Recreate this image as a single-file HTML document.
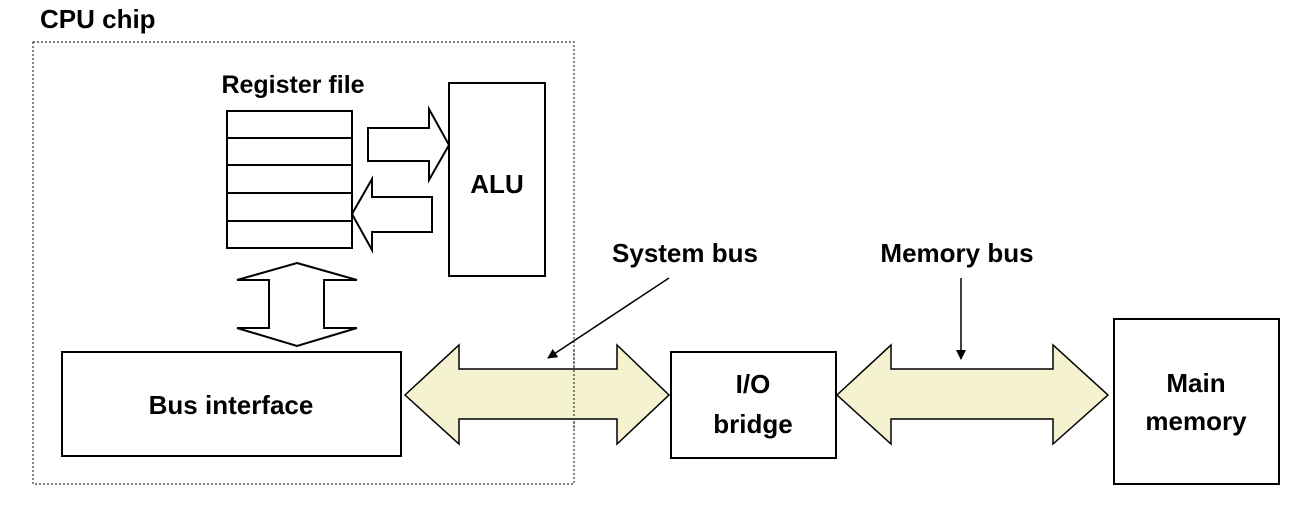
<!DOCTYPE html>
<html><head><meta charset="utf-8"><style>
html,body{margin:0;padding:0;background:#fff;}
svg text{font-family:"Liberation Sans",sans-serif;font-weight:bold;font-size:26px;fill:#000;}
</style></head><body>
<svg width="1291" height="503" viewBox="0 0 1291 503" xmlns="http://www.w3.org/2000/svg">
<defs><marker id="ah" markerWidth="10" markerHeight="10" refX="9" refY="5" orient="auto" markerUnits="userSpaceOnUse"><path d="M0,0 L10,5 L0,10 z" fill="#000"/></marker></defs>
<rect x="33" y="42" width="541" height="442" fill="none" stroke="#333" stroke-width="1.2" stroke-dasharray="2,2"/>
<text x="40" y="28" style="font-size:26px">CPU chip</text>
<text x="293" y="93" text-anchor="middle" style="font-size:25px">Register file</text>
<g fill="none" stroke="#000" stroke-width="2">
<rect x="227" y="111" width="125" height="137"/>
<line x1="227" y1="138" x2="352" y2="138"/>
<line x1="227" y1="165" x2="352" y2="165"/>
<line x1="227" y1="193" x2="352" y2="193"/>
<line x1="227" y1="221" x2="352" y2="221"/>
<rect x="449" y="83" width="96" height="193"/>
<path d="M368,128 L429,128 L429,109 L449,145 L429,180 L429,161 L368,161 Z"/>
<path d="M352,214 L372,179 L372,197 L432,197 L432,232 L372,232 L372,250 Z"/>
<path d="M297,263 L357,280 L324,280 L324,328 L357,328 L297,346 L237,328 L269,328 L269,280 L237,280 Z"/>
<rect x="62" y="352" width="339" height="104"/>
<rect x="671" y="352" width="165" height="106"/>
<rect x="1114" y="319" width="165" height="165"/>
</g>
<path d="M405,395 L459,345 L459,369 L617,369 L617,345 L669,395 L617,444 L617,419 L459,419 L459,444 Z" fill="#f5f3cf" stroke="#000" stroke-width="1.5"/>
<path d="M837,395 L891,345 L891,369 L1053,369 L1053,345 L1108,395 L1053,444 L1053,419 L891,419 L891,444 Z" fill="#f5f3cf" stroke="#000" stroke-width="1.5"/>
<line x1="574" y1="350" x2="574" y2="430" stroke="#333" stroke-width="1.2" stroke-dasharray="2,2"/>
<line x1="669" y1="278" x2="548" y2="358" stroke="#000" stroke-width="1.5" marker-end="url(#ah)"/>
<line x1="961" y1="278" x2="961" y2="359" stroke="#000" stroke-width="1.5" marker-end="url(#ah)"/>
<text x="497" y="193" text-anchor="middle">ALU</text>
<text x="685" y="262" text-anchor="middle">System bus</text>
<text x="957" y="262" text-anchor="middle">Memory bus</text>
<text x="231" y="414" text-anchor="middle">Bus interface</text>
<text x="753" y="393" text-anchor="middle">I/O</text>
<text x="753" y="433" text-anchor="middle">bridge</text>
<text x="1196" y="392" text-anchor="middle">Main</text>
<text x="1196" y="430" text-anchor="middle">memory</text>
</svg>
</body></html>
